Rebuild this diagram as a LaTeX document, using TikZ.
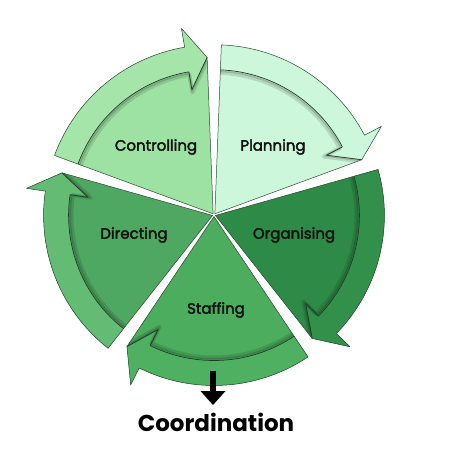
\documentclass[tikz,border=0pt]{standalone}
\usepackage{fontspec}
\setmainfont{Poppins}
\newfontfamily\labfont{Poppins}[FakeBold=2.5]
\usetikzlibrary{calc}
\definecolor{planP}{HTML}{CDF7DA}
\definecolor{planB}{HTML}{CDF7DA}
\definecolor{ctrlP}{HTML}{9EE2A3}
\definecolor{ctrlB}{HTML}{A6E5AA}
\definecolor{dirP}{HTML}{4FA862}
\definecolor{dirB}{HTML}{63BB74}
\definecolor{stafP}{HTML}{4CAD5E}
\definecolor{stafB}{HTML}{50B062}
\definecolor{orgP}{HTML}{2E8B47}
\definecolor{orgB}{HTML}{32904B}
\definecolor{edgecol}{HTML}{2B4A33}
\definecolor{txt}{HTML}{111111}
\tikzset{
  edge/.style={draw=edgecol, line width=0.5pt, line join=round},
  inner/.style={draw=edgecol!80!black, line width=0.7pt, line join=round},
  shade1/.style={draw=black, opacity=0.12, line width=4pt, line join=round},
  shade2/.style={draw=black, opacity=0.15, line width=2pt, line join=round},
  lab/.style={font=\labfont\fontsize{15}{17}\selectfont, text=txt},
}
\newcommand\seg[3]{%
  \pgfmathsetmacro\sa{#1-2.2}%
  \pgfmathsetmacro\ta{#1-72+2.2}%
  \pgfmathsetmacro\ba{#1-72+9.7}%
  \pgfmathsetmacro\ma{#1-36}%
  \begin{scope}[shift={(\ma:1.5pt)}]
    \fill[#2] (0,0) -- (\sa:169pt) arc[start angle=\sa, end angle=\ba, radius=169pt]
      -- (\ba:188pt) -- (\ta:156.5pt) -- cycle;
    \fill[#3] (\sa:144pt) -- (\sa:169pt) arc[start angle=\sa, end angle=\ba, radius=169pt]
      -- (\ba:188pt) -- (\ta:156.5pt) -- (\ba:126pt) -- (\ba:144pt)
      arc[start angle=\ba, end angle=\sa, radius=144pt] -- cycle;
    \begin{scope}
      \clip (0,0) -- (\sa:169pt) arc[start angle=\sa, end angle=\ba, radius=169pt]
      -- (\ba:188pt) -- (\ta:156.5pt) -- cycle;
      \draw[shade1] (\sa:141pt) arc[start angle=\sa, end angle=\ba, radius=141pt] -- (\ba:123pt) -- (\ta:153pt);
      \draw[shade2] (\sa:142.5pt) arc[start angle=\sa, end angle=\ba, radius=142.5pt] -- (\ba:124.5pt) -- (\ta:155pt);
    \end{scope}
    \draw[edge] (0,0) -- (\sa:169pt) arc[start angle=\sa, end angle=\ba, radius=169pt]
      -- (\ba:188pt) -- (\ta:156.5pt) -- cycle;
    \draw[inner] (\sa:144pt) arc[start angle=\sa, end angle=\ba, radius=144pt]
      -- (\ba:126pt) -- (\ta:156.5pt);
  \end{scope}}
\begin{document}
\begin{tikzpicture}[x=1pt,y=1pt]
\useasboundingbox[fill=white] (-214,-250) rectangle (244,215);
\seg{90}{planP}{planB}
\seg{18}{orgP}{orgB}
\seg{-54}{stafP}{stafB}
\seg{-126}{dirP}{dirB}
\seg{162}{ctrlP}{ctrlB}
\node[lab] (controlling) at (-58,68) {Controlling};
\node[lab] (planning) at (59,68) {Planning};
\node[lab] (directing) at (-80,-20) {Directing};
\node[lab] (organising) at (80,-20) {Organising};
\node[lab] (staffing) at (2,-95) {Staffing};
\node[font=\bfseries\fontsize{23}{27}\selectfont, text=black] (coord) at (2,-207) {Coordination};
\fill[black] (-4,-156) rectangle (2,-176);
\fill[black] (-13.5,-176) -- (11.5,-176) -- (-1,-190) -- cycle;
\end{tikzpicture}
\end{document}
